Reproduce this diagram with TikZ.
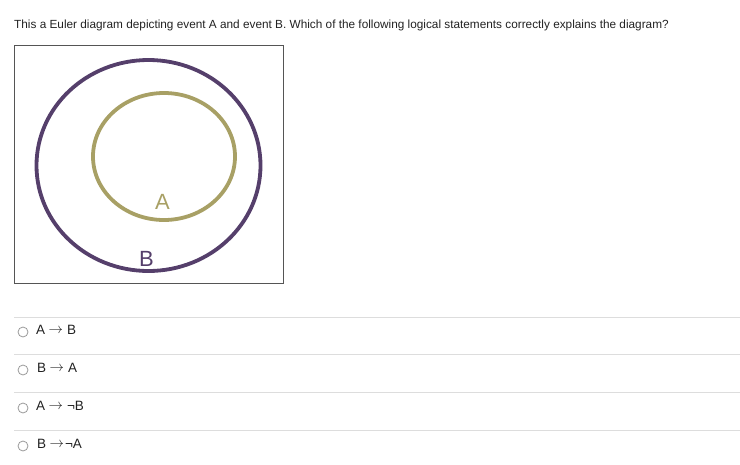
\documentclass[tikz,border=0pt]{standalone}
\usepackage{fontspec}
\setmainfont{Liberation Sans}
\newcommand{\rarr}{\hspace{3.5pt}\raisebox{0.3pt}{$\rightarrow$}}
\definecolor{purpleB}{HTML}{553F6B}
\definecolor{oliveA}{HTML}{A8A065}
\definecolor{sepgray}{HTML}{DDDDDD}
\definecolor{boxgray}{HTML}{555555}
\definecolor{radiogray}{HTML}{999999}
\definecolor{txt}{HTML}{222222}
\tikzset{
  sep/.style={draw=sepgray, line width=1pt},
  radio/.style={circle, draw=radiogray, line width=0.8pt, minimum size=10pt, inner sep=0pt},
  opt/.style={anchor=west, inner sep=0pt, font=\fontsize{13.5}{15}\selectfont, text=txt},
  lbl/.style={inner sep=0pt, font=\fontsize{22}{24}\selectfont},
}
\begin{document}
\begin{tikzpicture}[x=1pt,y=-1pt]
\useasboundingbox (0,0) rectangle (740,464);
\node[anchor=west, inner sep=0pt, font=\fontsize{11.8}{13}\selectfont, text=txt] (q) at (14,25)
  {This a Euler diagram depicting event A and event B. Which of the following logical statements correctly explains the diagram?};
\node[draw=boxgray, line width=0.8pt, minimum width=269pt, minimum height=238pt, inner sep=0pt, anchor=north west] (box) at (14,45) {};
\draw[purpleB, line width=3.8pt] (148.5,165.5) ellipse [x radius=112, y radius=105.5];
\draw[oliveA, line width=3.8pt] (164,156.5) ellipse [x radius=71, y radius=63.5];
\node[lbl, text=oliveA] (la) at (162.5,201.5) {A};
\node[lbl, text=purpleB] (lb) at (146.5,259) {B};
\foreach \yy in {317,354,392,430} \draw[sep] (14,\yy) -- (740,\yy);
\node[radio] (r1) at (23,332) {};
\node[radio] (r2) at (23,370) {};
\node[radio] (r3) at (23,408) {};
\node[radio] (r4) at (23,446) {};
\node[opt] (o1) at (36,329.5) {A\rarr\hspace{4pt}B};
\node[opt] (o2) at (37,367.5) {B\rarr\hspace{4pt}A};
\node[opt] (o3) at (36,405.5) {A\rarr\hspace{4pt}¬B};
\node[opt] (o4) at (37,443.5) {B\rarr\hspace{1pt}¬A};
\end{tikzpicture}
\end{document}
